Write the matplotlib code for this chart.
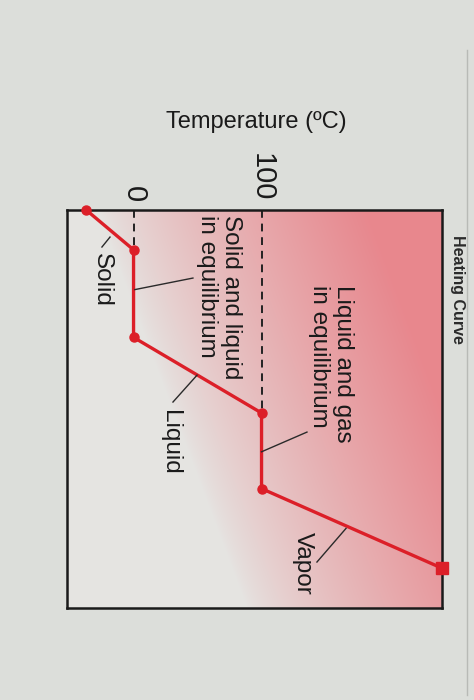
import numpy as np
import matplotlib
matplotlib.use('Agg')
import matplotlib.pyplot as plt
from matplotlib.lines import Line2D

plt.rcParams['font.family'] = ['Liberation Sans', 'DejaVu Sans']

# heating curve: temperature (deg C) vs time (arbitrary units, time runs downward)
temps = [-37, 0, 0, 100, 100, 241]
times = [0, 2, 6.4, 10.2, 14, 18]
tick_vals = [0, 100]
tick_text = ['0', '100']

# phase labels: text, (T, t) of text top, leader start, leader end
labels = ['Solid', 'Solid and liquid\nin equilibrium', 'Liquid',
          'Liquid and gas\nin equilibrium', 'Vapor']
label_pos = [(-24.7, 2.15), (66.5, 0.25), (28.5, 10.05), (154.5, 3.75), (132.5, 16.2)]
leader_from = [(-18.4, 1.36), (1.0, 4.0), (49.6, 8.3), (100.0, 12.15), (166.0, 16.0)]
leader_to = [(-24.7, 1.86), (46.4, 3.42), (30.8, 9.65), (135.5, 11.16), (143.3, 17.69)]

W, H = 474, 700
fig = plt.figure(figsize=(W / 100, H / 100), dpi=100)
fig.patch.set_facecolor('#dcdeda')

ax = fig.add_axes([67 / W, 1 - 608 / H, (442 - 67) / W, (608 - 210) / H])
xlim = (-52, 241)
ylim = (20, 0)

# diagonal light -> pink background
u = np.linspace(0, 1, 300)
w = np.linspace(0, 1, 400)
U, Wg = np.meshgrid(u, w)
t = np.clip((U - 0.08 - 0.40 * Wg) / 0.72, 0, 1) ** 0.8
light = np.array([0.90, 0.895, 0.885])
pink = np.array([0.91, 0.53, 0.555])
img = light[None, None, :] + t[..., None] * (pink - light)[None, None, :]
ax.imshow(img, extent=[xlim[0], xlim[1], ylim[0], ylim[1]], aspect='auto',
          origin='upper', zorder=0)

# dashed guide lines at 0 and 100
ax.plot([temps[1], temps[1]], [0, times[1]], color='#222222', lw=1.4,
        dashes=(4, 3), zorder=2)
ax.plot([temps[3], temps[3]], [0, times[3]], color='#222222', lw=1.4,
        dashes=(4, 3), zorder=2)

ax.plot(temps, times, color='#dc1f28', lw=2.4, zorder=3)
ax.plot(temps[:-1], times[:-1], 'o', color='#dc1f28', ms=6.5, zorder=4, clip_on=False)
ax.plot(temps[-1:], times[-1:], 's', color='#dc1f28', ms=8.5, zorder=4, clip_on=False)

for txt, p, a, b in zip(labels, label_pos, leader_from, leader_to):
    ax.text(p[0], p[1], txt, rotation=-90, ha='center', va='top',
            multialignment='left', fontsize=17.5, color='#1a1a1a',
            linespacing=1.1, zorder=5)
    ax.plot([a[0], b[0]], [a[1], b[1]], color='#2a2a2a', lw=1.0, zorder=5)

ax.set_xlim(xlim)
ax.set_ylim(ylim)
ax.xaxis.tick_top()
ax.set_xticks(tick_vals)
ax.set_xticklabels(tick_text, rotation=-90, fontsize=21, color='#1a1a1a')
ax.tick_params(axis='x', length=0, pad=6)
ax.set_yticks([])
for s in ax.spines.values():
    s.set_linewidth(1.8)
    s.set_color('#1a1a1a')

fig.text(256 / W, 1 - 122 / H, 'Temperature (ºC)', ha='center', va='center',
         fontsize=17, color='#1a1a1a')

# title on the right edge and screen edge line
fig.text(457 / W, 1 - 289 / H, 'Heating Curve', rotation=-90, ha='center',
         va='center', fontsize=11.5, fontweight='bold', color='#2a2a2a')
fig.add_artist(Line2D([467 / W, 467 / W], [1 - 50 / H, 1 - 695 / H],
                      color='#b8bab6', lw=1.0))

fig.savefig('out.png', dpi=100, facecolor=fig.get_facecolor())
